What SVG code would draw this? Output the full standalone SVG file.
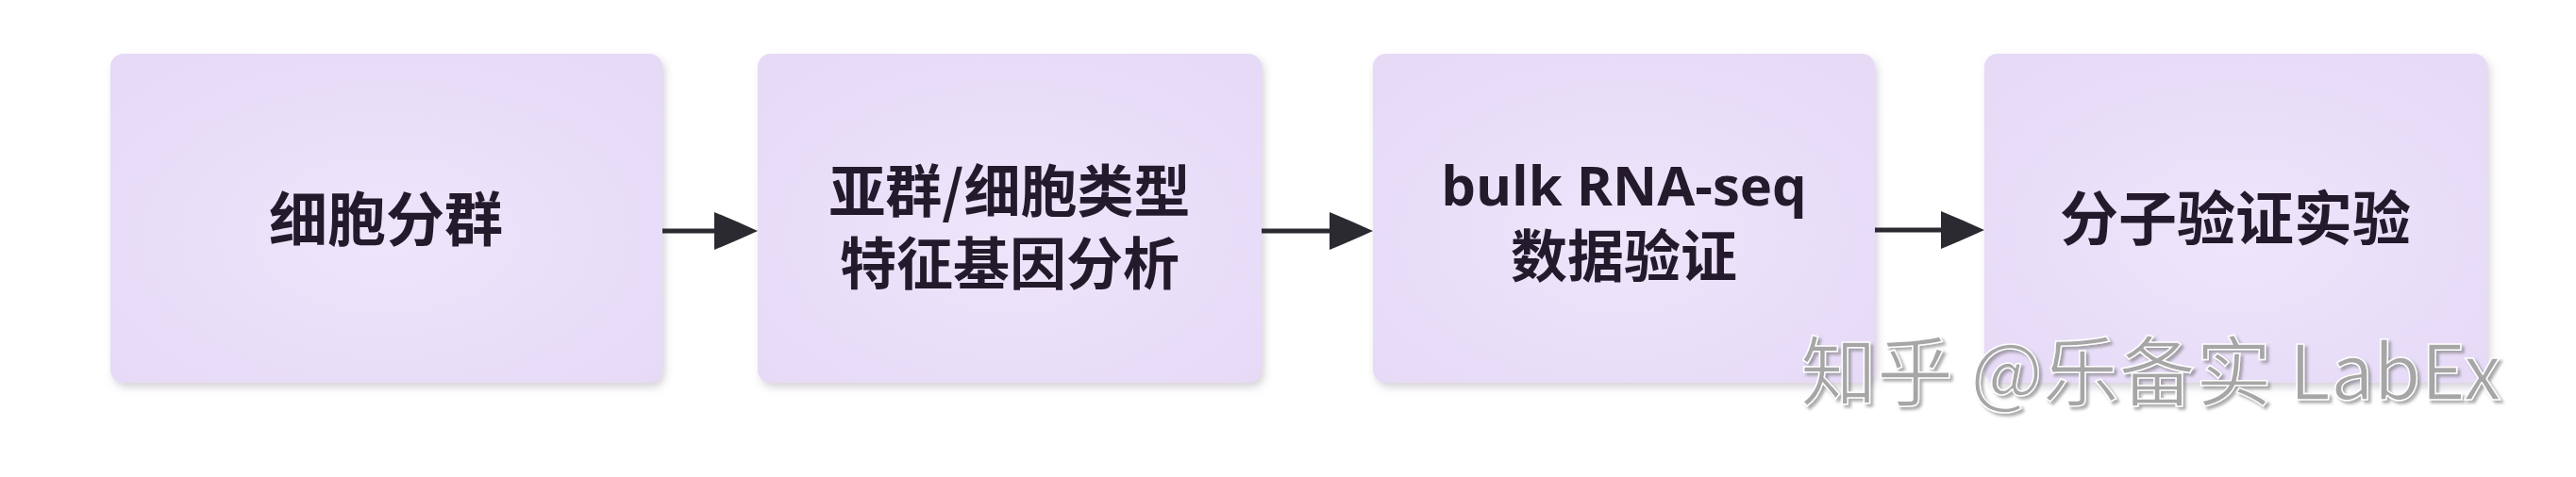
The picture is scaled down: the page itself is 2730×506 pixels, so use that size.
<svg xmlns="http://www.w3.org/2000/svg" width="2730" height="506" viewBox="0 0 2730 506">
<defs>
<radialGradient id="boxfill" cx="50%" cy="55%" r="65%">
<stop offset="0" stop-color="#EEE5FB"/>
<stop offset="1" stop-color="#E6DAF7"/>
</radialGradient>
<filter id="shadow" x="-5%" y="-5%" width="112%" height="115%">
<feDropShadow dx="3" dy="5" stdDeviation="4" flood-color="#8a8296" flood-opacity="0.35"/>
</filter>
<filter id="wmshadow" x="-5%" y="-20%" width="110%" height="140%">
<feDropShadow dx="3" dy="3" stdDeviation="1.5" flood-color="#777" flood-opacity="0.6"/>
</filter>
<marker id="arrow" markerUnits="userSpaceOnUse" markerWidth="48" markerHeight="42" refX="26" refY="21" orient="auto">
<path d="M0,1 Q22,10 46,21 Q22,32 0,41 Z" fill="#2c2a31"/>
</marker>
</defs>
<style>
.box{fill:url(#boxfill);filter:url(#shadow);}
.cjk{font-family:"Noto Sans CJK SC","Noto Sans",sans-serif;font-weight:700;font-size:62px;fill:#231b2c;text-anchor:middle;}
.cjk2{font-family:"Noto Sans CJK SC","Noto Sans",sans-serif;font-weight:700;font-size:60px;fill:#231b2c;text-anchor:middle;}
.lat{font-family:"Open Sans","Noto Sans",sans-serif;font-weight:700;font-size:58px;}
.conn{stroke:#2c2a31;stroke-width:5;fill:none;marker-end:url(#arrow);}
.wm{font-family:"Noto Sans CJK SC","Noto Sans",sans-serif;font-weight:400;font-size:81px;fill:#a6a6a6;stroke:#ffffff;stroke-width:1.5;filter:url(#wmshadow);}
</style>
<rect width="2730" height="506" fill="#ffffff"/>
<g id="node1">
<rect class="box" x="117" y="57" width="585" height="349" rx="14"/>
<text class="cjk" x="409" y="256">细胞分群</text>
</g>
<g id="node2">
<rect class="box" x="803" y="57" width="534" height="349" rx="14"/>
<text class="cjk2"><tspan x="1070" y="225">亚群/细胞类型</tspan><tspan x="1070" y="302">特征基因分析</tspan></text>
</g>
<g id="node3">
<rect class="box" x="1455" y="57" width="532" height="349" rx="14"/>
<text class="cjk2"><tspan class="lat" x="1721" y="218">bulk RNA-seq</tspan><tspan x="1721" y="294">数据验证</tspan></text>
</g>
<g id="node4">
<rect class="box" x="2103" y="57" width="533" height="349" rx="14"/>
<text class="cjk" x="2369" y="255">分子验证实验</text>
</g>
<g id="connectors">
<line class="conn" x1="702" y1="245" x2="783" y2="245"/>
<line class="conn" x1="1337" y1="245" x2="1435" y2="245"/>
<line class="conn" x1="1987" y1="244" x2="2083" y2="244"/>
</g>
<g id="watermark">
<text class="wm" x="1908" y="424">知乎 @乐备实 LabEx</text>
</g>
</svg>
